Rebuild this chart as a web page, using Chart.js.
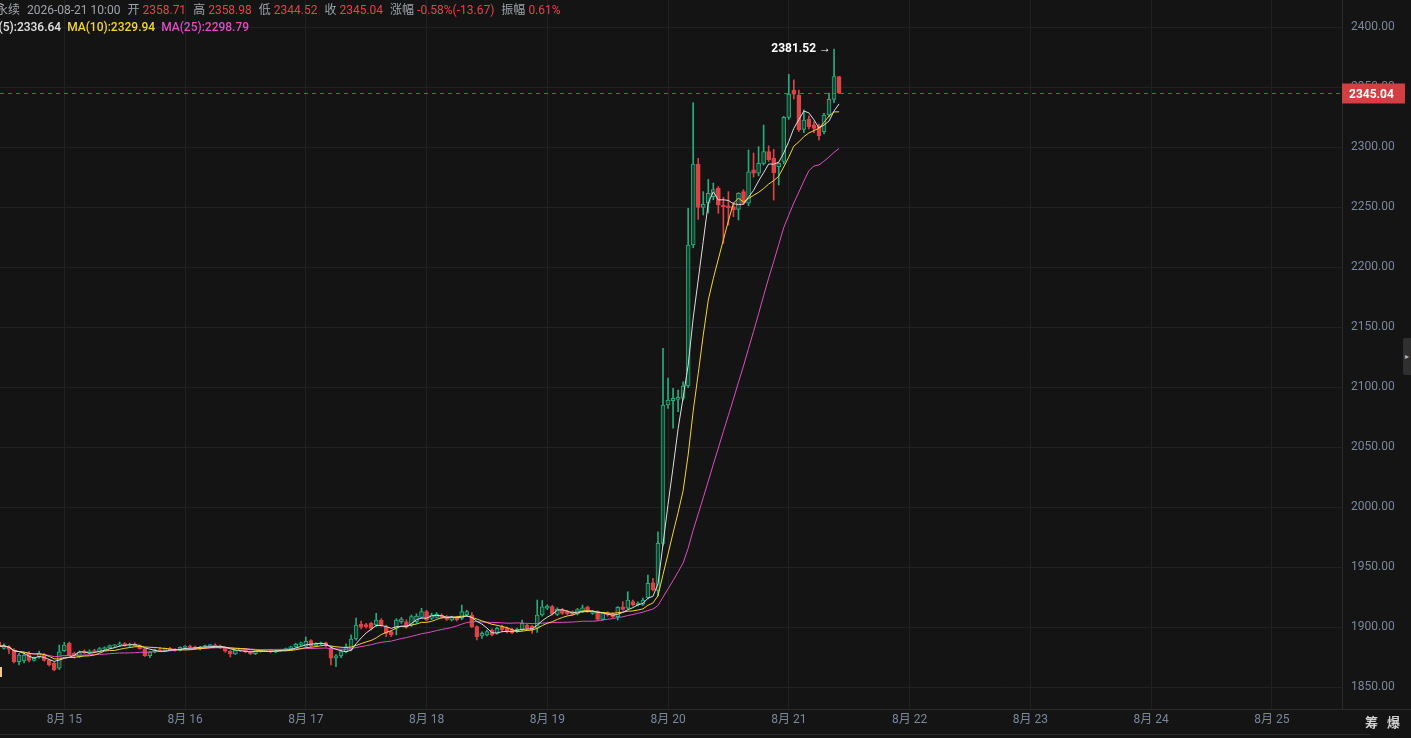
<!DOCTYPE html>
<html lang="zh">
<head>
<meta charset="UTF-8">
<title>永续 K线</title>
<script src="https://cdn.jsdelivr.net/npm/chart.js@4"></script>
<style>
  * { margin: 0; padding: 0; box-sizing: border-box; }
  body { width: 1411px; height: 738px; background: #141414; overflow: hidden; position: relative;
         font-family: Roboto, 'Noto Sans CJK SC', sans-serif; }
  #chart { position: absolute; left: 0; top: 0; }
  .info { position: absolute; white-space: nowrap; font-size: 12px; line-height: 14px; }
  .lb { color: #9fa3aa; margin-left: 7px; }
  .lb:first-child { margin-left: 0; }
  .v { color: #e0464b; margin-left: 3px; }
  .ma { margin-left: 6px; font-weight: 500; }
  .ma:first-child { margin-left: 0; }
  .side-tab { position: absolute; left: 1403px; top: 338px; width: 8px; height: 37px; background: #2f2f2f;
              border-radius: 2px 0 0 2px; color: #b5b5b5; font-size: 8px; line-height: 37px; text-align: center; }
  .corner { position: absolute; left: 1365px; top: 712px; color: #d2d2d2; font-size: 13px; font-weight: 700;
            letter-spacing: 9px; font-family: 'Noto Sans CJK SC', sans-serif; }
  .mark { position: absolute; left: 0; top: 667px; width: 2px; height: 10px; background: #f3c98b; }
  .scroll-line { position: absolute; left: 0; top: 734px; width: 1370px; height: 1px; background: #2a2a2a; }
</style>
</head>
<body>
<canvas id="chart" width="1411" height="738"></canvas>

<div class="info" style="left:-4px; top:3px;">
  <span class="lb">永续</span><span class="lb">2026-08-21 10:00</span><span class="lb">开</span><span class="v">2358.71</span><span class="lb">高</span><span class="v">2358.98</span><span class="lb">低</span><span class="v">2344.52</span><span class="lb">收</span><span class="v">2345.04</span><span class="lb">涨幅</span><span class="v">-0.58%(-13.67)</span><span class="lb">振幅</span><span class="v">0.61%</span>
</div>
<div class="info" style="left:-20px; top:20px;">
  <span class="ma" style="color:#e2e2e2">MA(5):2336.64</span><span class="ma" style="color:#f3d530">MA(10):2329.94</span><span class="ma" style="color:#db4fc2">MA(25):2298.79</span>
</div>

<div class="side-tab">&#9656;</div>
<div class="corner">筹爆</div>
<div class="mark"></div>
<div class="scroll-line"></div>

<script>
// hourly candles, x = hours counted from 2026-08-15 00:00 (first candle 08-14 11:00)
const firstHour = -13;

const opens = [
  1887.5, 1882.2, 1883.6, 1880.8, 1871.1, 1871.7, 1878.1, 1872.2, 1875.3, 1876.7, 1872.2, 1869.7, 1865.6,
  1880.3, 1886.4, 1878.1, 1875.3, 1880.0, 1878.5, 1880.0, 1879.5, 1882.0, 1882.5, 1884.2, 1885.0, 1886.2,
  1884.8, 1885.8, 1884.0, 1882.0, 1876.2, 1879.2, 1881.0, 1880.2, 1882.0, 1881.0, 1880.5, 1883.0, 1884.0,
  1883.2, 1882.0, 1883.2, 1884.5, 1885.0, 1884.2, 1882.5, 1879.8, 1877.5, 1880.5, 1881.5, 1879.2, 1877.8,
  1879.8, 1880.5, 1881.0, 1879.2, 1880.2, 1881.0, 1882.0, 1883.5, 1885.5, 1884.0, 1888.6, 1884.2, 1886.0,
  1886.8, 1882.2, 1874.0, 1876.0, 1879.5, 1880.8, 1890.0, 1902.5, 1902.0, 1903.1, 1901.7, 1905.8, 1900.3,
  1896.1, 1898.9, 1904.4, 1904.4, 1901.7, 1904.4, 1908.0, 1912.8, 1907.2, 1908.0, 1910.0, 1908.6, 1905.8,
  1908.0, 1907.2, 1910.0, 1910.0, 1900.3, 1892.5, 1893.3, 1897.5, 1894.7, 1900.3, 1898.9, 1898.0, 1896.1,
  1898.0, 1901.7, 1900.8, 1899.0, 1910.0, 1915.6, 1917.0, 1910.5, 1914.5, 1913.0, 1912.8, 1911.0, 1913.0,
  1916.5, 1911.4, 1912.8, 1906.4, 1911.9, 1911.0, 1908.6, 1916.9, 1915.6, 1921.1, 1918.3, 1919.0, 1924.5,
  1936.8, 1930.5, 1969.7, 2085.0, 2088.6, 2089.7, 2090.6, 2100.8, 2218.3, 2285.8, 2249.7, 2253.1, 2258.6,
  2265.6, 2251.7, 2251.0, 2250.3, 2248.0, 2262.8, 2253.1, 2281.0, 2278.1, 2286.4, 2296.1, 2290.6, 2283.6,
  2288.0, 2324.7, 2347.5, 2343.3, 2314.7, 2323.0, 2318.5, 2317.5, 2312.8, 2326.7, 2339.7, 2358.71
];
const highs = [
  1888.5, 1886.0, 1884.5, 1882.0, 1878.0, 1878.0, 1879.5, 1875.0, 1880.0, 1878.0, 1873.0, 1870.5, 1885.0,
  1887.2, 1887.5, 1879.0, 1880.0, 1881.0, 1881.0, 1881.5, 1883.0, 1883.5, 1885.0, 1885.5, 1887.5, 1887.0,
  1886.5, 1886.8, 1885.0, 1882.5, 1879.8, 1881.5, 1883.0, 1882.5, 1883.0, 1882.0, 1883.5, 1884.5, 1885.0,
  1884.0, 1883.8, 1885.0, 1885.5, 1886.0, 1885.0, 1883.0, 1880.5, 1881.0, 1882.0, 1882.0, 1880.0, 1880.2,
  1881.0, 1881.5, 1881.5, 1880.8, 1881.5, 1882.5, 1884.0, 1886.5, 1887.5, 1891.7, 1889.5, 1886.8, 1887.5,
  1887.5, 1884.0, 1877.0, 1881.0, 1886.0, 1893.5, 1907.5, 1905.0, 1903.0, 1904.0, 1911.4, 1907.0, 1901.5,
  1897.0, 1907.0, 1908.0, 1906.0, 1910.0, 1911.0, 1915.6, 1914.0, 1911.5, 1912.0, 1911.0, 1909.5, 1909.0,
  1909.0, 1918.3, 1914.0, 1912.0, 1901.0, 1896.0, 1897.5, 1898.5, 1900.0, 1901.5, 1900.0, 1899.0, 1899.0,
  1905.8, 1902.5, 1901.5, 1922.5, 1922.0, 1918.5, 1918.0, 1916.0, 1915.5, 1914.0, 1913.5, 1915.5, 1918.3,
  1917.5, 1913.5, 1913.5, 1912.0, 1912.8, 1912.0, 1917.0, 1921.1, 1929.4, 1922.5, 1921.0, 1924.0, 1943.3,
  1940.6, 1979.4, 2132.2, 2107.5, 2098.9, 2097.5, 2104.4, 2248.9, 2336.9, 2290.6, 2262.8, 2273.0, 2270.0,
  2267.0, 2258.0, 2262.8, 2253.5, 2262.0, 2264.5, 2297.5, 2295.0, 2300.3, 2318.3, 2301.0, 2298.0, 2287.0,
  2325.5, 2360.6, 2356.0, 2347.5, 2331.0, 2326.0, 2321.0, 2319.0, 2328.0, 2345.0, 2381.52, 2358.98
];
const lows = [
  1883.5, 1881.5, 1878.0, 1870.0, 1868.3, 1870.0, 1871.0, 1871.5, 1874.0, 1871.5, 1867.5, 1863.5, 1864.5,
  1879.5, 1875.5, 1874.0, 1874.5, 1877.5, 1877.5, 1878.5, 1879.0, 1880.5, 1882.0, 1883.0, 1884.0, 1884.0,
  1883.5, 1884.0, 1881.5, 1875.5, 1874.5, 1878.5, 1879.8, 1879.5, 1880.5, 1879.8, 1880.0, 1882.0, 1882.5,
  1881.5, 1881.0, 1882.5, 1883.5, 1883.8, 1882.0, 1879.0, 1875.0, 1877.0, 1879.5, 1878.5, 1877.0, 1877.0,
  1879.0, 1879.5, 1878.5, 1878.5, 1879.8, 1880.0, 1881.5, 1883.0, 1884.5, 1883.5, 1883.5, 1883.8, 1885.0,
  1883.5, 1868.3, 1867.0, 1874.5, 1878.5, 1880.0, 1889.0, 1898.5, 1899.0, 1897.5, 1900.5, 1900.5, 1891.9,
  1892.0, 1893.5, 1903.0, 1899.0, 1900.5, 1903.0, 1907.0, 1905.0, 1906.0, 1907.5, 1907.0, 1905.5, 1905.0,
  1905.0, 1906.0, 1909.0, 1899.5, 1889.2, 1890.5, 1892.5, 1892.5, 1894.0, 1896.5, 1895.0, 1894.5, 1895.5,
  1897.0, 1898.0, 1894.7, 1895.5, 1909.0, 1914.5, 1910.0, 1909.5, 1910.5, 1910.0, 1909.8, 1910.0, 1912.0,
  1912.0, 1910.5, 1905.5, 1905.5, 1909.0, 1907.8, 1905.8, 1914.0, 1915.0, 1917.5, 1917.5, 1918.0, 1923.5,
  1930.0, 1926.0, 1968.0, 2082.2, 2065.6, 2079.4, 2089.0, 2099.5, 2216.0, 2239.7, 2243.3, 2245.0, 2256.0,
  2244.7, 2219.7, 2235.0, 2241.9, 2239.2, 2252.0, 2251.0, 2275.0, 2276.0, 2285.0, 2288.0, 2255.8, 2268.3,
  2286.0, 2323.0, 2340.0, 2313.0, 2312.0, 2315.0, 2312.0, 2305.8, 2311.0, 2325.0, 2337.0, 2344.52
];
const closes = [
  1884.0, 1884.4, 1881.4, 1871.1, 1876.7, 1876.7, 1872.2, 1873.9, 1878.1, 1872.2, 1868.3, 1864.2, 1879.4,
  1885.0, 1876.7, 1876.7, 1878.9, 1878.5, 1880.0, 1879.5, 1882.0, 1882.8, 1884.5, 1885.2, 1886.0, 1884.8,
  1885.8, 1884.5, 1882.0, 1876.2, 1879.2, 1881.0, 1880.2, 1882.0, 1881.0, 1880.5, 1883.0, 1884.0, 1883.2,
  1882.0, 1883.2, 1884.5, 1885.0, 1884.2, 1882.5, 1879.8, 1877.5, 1880.5, 1881.5, 1879.2, 1877.8, 1879.8,
  1880.5, 1881.0, 1879.2, 1880.2, 1881.0, 1882.0, 1883.5, 1885.5, 1886.8, 1888.0, 1884.2, 1886.0, 1886.8,
  1884.5, 1874.0, 1876.0, 1879.5, 1883.5, 1890.0, 1901.5, 1899.8, 1900.3, 1898.9, 1905.8, 1901.7, 1894.7,
  1893.3, 1905.8, 1906.5, 1900.3, 1908.6, 1909.2, 1912.8, 1905.8, 1910.0, 1910.5, 1908.0, 1906.4, 1908.0,
  1905.8, 1912.8, 1912.8, 1900.3, 1891.9, 1894.7, 1896.1, 1893.3, 1898.9, 1897.5, 1896.1, 1895.3, 1898.0,
  1903.1, 1898.9, 1897.5, 1910.0, 1916.9, 1917.5, 1911.0, 1915.0, 1911.4, 1910.8, 1910.5, 1914.5, 1916.0,
  1912.8, 1912.8, 1906.4, 1911.4, 1910.0, 1908.6, 1916.4, 1914.7, 1922.5, 1918.3, 1920.0, 1922.5, 1936.4,
  1931.0, 1969.7, 2085.0, 2089.0, 2090.6, 2091.4, 2100.8, 2218.3, 2285.8, 2249.7, 2252.2, 2261.4, 2264.5,
  2251.7, 2250.3, 2249.5, 2247.5, 2261.4, 2253.1, 2279.4, 2278.1, 2286.4, 2296.1, 2289.2, 2278.6, 2286.4,
  2324.7, 2344.2, 2344.0, 2314.5, 2322.5, 2317.0, 2315.5, 2309.5, 2326.7, 2339.7, 2358.6, 2345.04
];

const maPeriods = [5, 10, 25];
const maColors = ['#dcdcdc', '#f3d530', '#db4fc2'];

const dayHours = [0, 24, 48, 72, 96, 120, 144, 168, 192, 216, 240];
const dayLabels = ['8月 15', '8月 16', '8月 17', '8月 18', '8月 19', '8月 20', '8月 21', '8月 22', '8月 23', '8月 24', '8月 25'];
const yTicks = [1850, 1900, 1950, 2000, 2050, 2100, 2150, 2200, 2250, 2300, 2350, 2400];

const UP = '#25ad7e';
const UP_FILL = '#17432f';
const DOWN = '#dc4347';
const GRID = '#202124';
const AXIS_TEXT = '#7c879b';

Chart.defaults.font.family = "Roboto, 'Noto Sans CJK SC', sans-serif";

const hourOf = i => firstHour + i;
const isUp = opens.map((o, i) => closes[i] >= o);

function movingAverage(n) {
  return closes.map((_, i) => {
    const win = closes.slice(Math.max(0, i - n + 1), i + 1);
    return { x: hourOf(i), y: win.reduce((a, b) => a + b, 0) / win.length };
  });
}

// last price line, price tag, highest-high marker, bottom border
const overlay = {
  id: 'overlay',
  afterDraw(chart) {
    const { ctx, chartArea, scales } = chart;
    const yScale = scales.y, xScale = scales.x;
    const last = closes[closes.length - 1];
    const py = Math.round(yScale.getPixelForValue(last)) + 0.5;

    ctx.save();
    ctx.strokeStyle = 'rgba(214, 72, 76, 0.85)';
    ctx.lineWidth = 1;
    ctx.setLineDash([4, 4]);
    ctx.beginPath();
    ctx.moveTo(chartArea.left, py);
    ctx.lineTo(chartArea.right, py);
    ctx.stroke();
    ctx.setLineDash([]);

    ctx.fillStyle = '#d13f42';
    ctx.fillRect(chartArea.right, py - 10, 63, 20);
    ctx.fillStyle = '#ffffff';
    ctx.font = "bold 12px Roboto, sans-serif";
    ctx.textAlign = 'left';
    ctx.textBaseline = 'middle';
    ctx.fillText(last.toFixed(2), chartArea.right + 7, py + 1);

    let hi = 0;
    highs.forEach((h, i) => { if (h > highs[hi]) hi = i; });
    const hx = xScale.getPixelForValue(hourOf(hi));
    const hy = yScale.getPixelForValue(highs[hi]);
    ctx.textAlign = 'right';
    ctx.fillText(highs[hi].toFixed(2) + ' →', hx - 3, hy);

    ctx.strokeStyle = '#2a2a2a';
    ctx.beginPath();
    ctx.moveTo(0, chartArea.bottom + 0.5);
    ctx.lineTo(chart.width, chartArea.bottom + 0.5);
    ctx.stroke();
    ctx.restore();
  }
};

new Chart(document.getElementById('chart'), {
  type: 'bar',
  data: {
    datasets: [
      ...maPeriods.map((n, k) => ({
        type: 'line',
        label: 'MA(' + n + ')',
        data: movingAverage(n),
        borderColor: maColors[k],
        borderWidth: 1,
        pointRadius: 0,
        tension: 0,
        order: 0
      })),
      {
        label: 'body',
        data: opens.map((o, i) => ({ x: hourOf(i), y: [o, closes[i]] })),
        backgroundColor: isUp.map(u => u ? UP_FILL : DOWN),
        borderColor: isUp.map(u => u ? UP : DOWN),
        borderWidth: 1,
        borderSkipped: false,
        barThickness: 4,
        minBarLength: 1,
        grouped: false,
        order: 1
      },
      {
        label: 'wick',
        data: highs.map((h, i) => ({ x: hourOf(i), y: [lows[i], h] })),
        backgroundColor: isUp.map(u => u ? UP : DOWN),
        borderWidth: 0,
        barThickness: 1,
        grouped: false,
        order: 2
      }
    ]
  },
  options: {
    responsive: false,
    animation: false,
    layout: { padding: 0 },
    plugins: { legend: { display: false }, tooltip: { enabled: false }, title: { display: false } },
    scales: {
      x: {
        type: 'linear',
        min: -12.78,
        max: 253.96,
        offset: false,
        grid: { color: GRID, drawTicks: false, offset: false },
        border: { display: false },
        ticks: {
          color: AXIS_TEXT,
          font: { size: 12 },
          padding: 4,
          maxRotation: 0,
          autoSkip: false,
          callback: v => dayLabels[dayHours.indexOf(v)] ?? ''
        },
        afterBuildTicks: s => { s.ticks = dayHours.map(v => ({ value: v })); },
        afterFit: s => { s.height = 29; s.paddingLeft = 0; s.paddingRight = 0; }
      },
      y: {
        type: 'linear',
        position: 'right',
        min: 1831.67,
        max: 2422.5,
        grid: { color: GRID, drawTicks: false },
        border: { display: true, color: '#2a2a2a' },
        ticks: {
          color: AXIS_TEXT,
          font: { size: 12 },
          padding: 9,
          callback: v => v.toFixed(2)
        },
        afterBuildTicks: s => { s.ticks = yTicks.map(v => ({ value: v })); },
        afterFit: s => { s.width = 69; s.paddingTop = 0; s.paddingBottom = 0; }
      }
    }
  },
  plugins: [overlay]
});
</script>
</body>
</html>
